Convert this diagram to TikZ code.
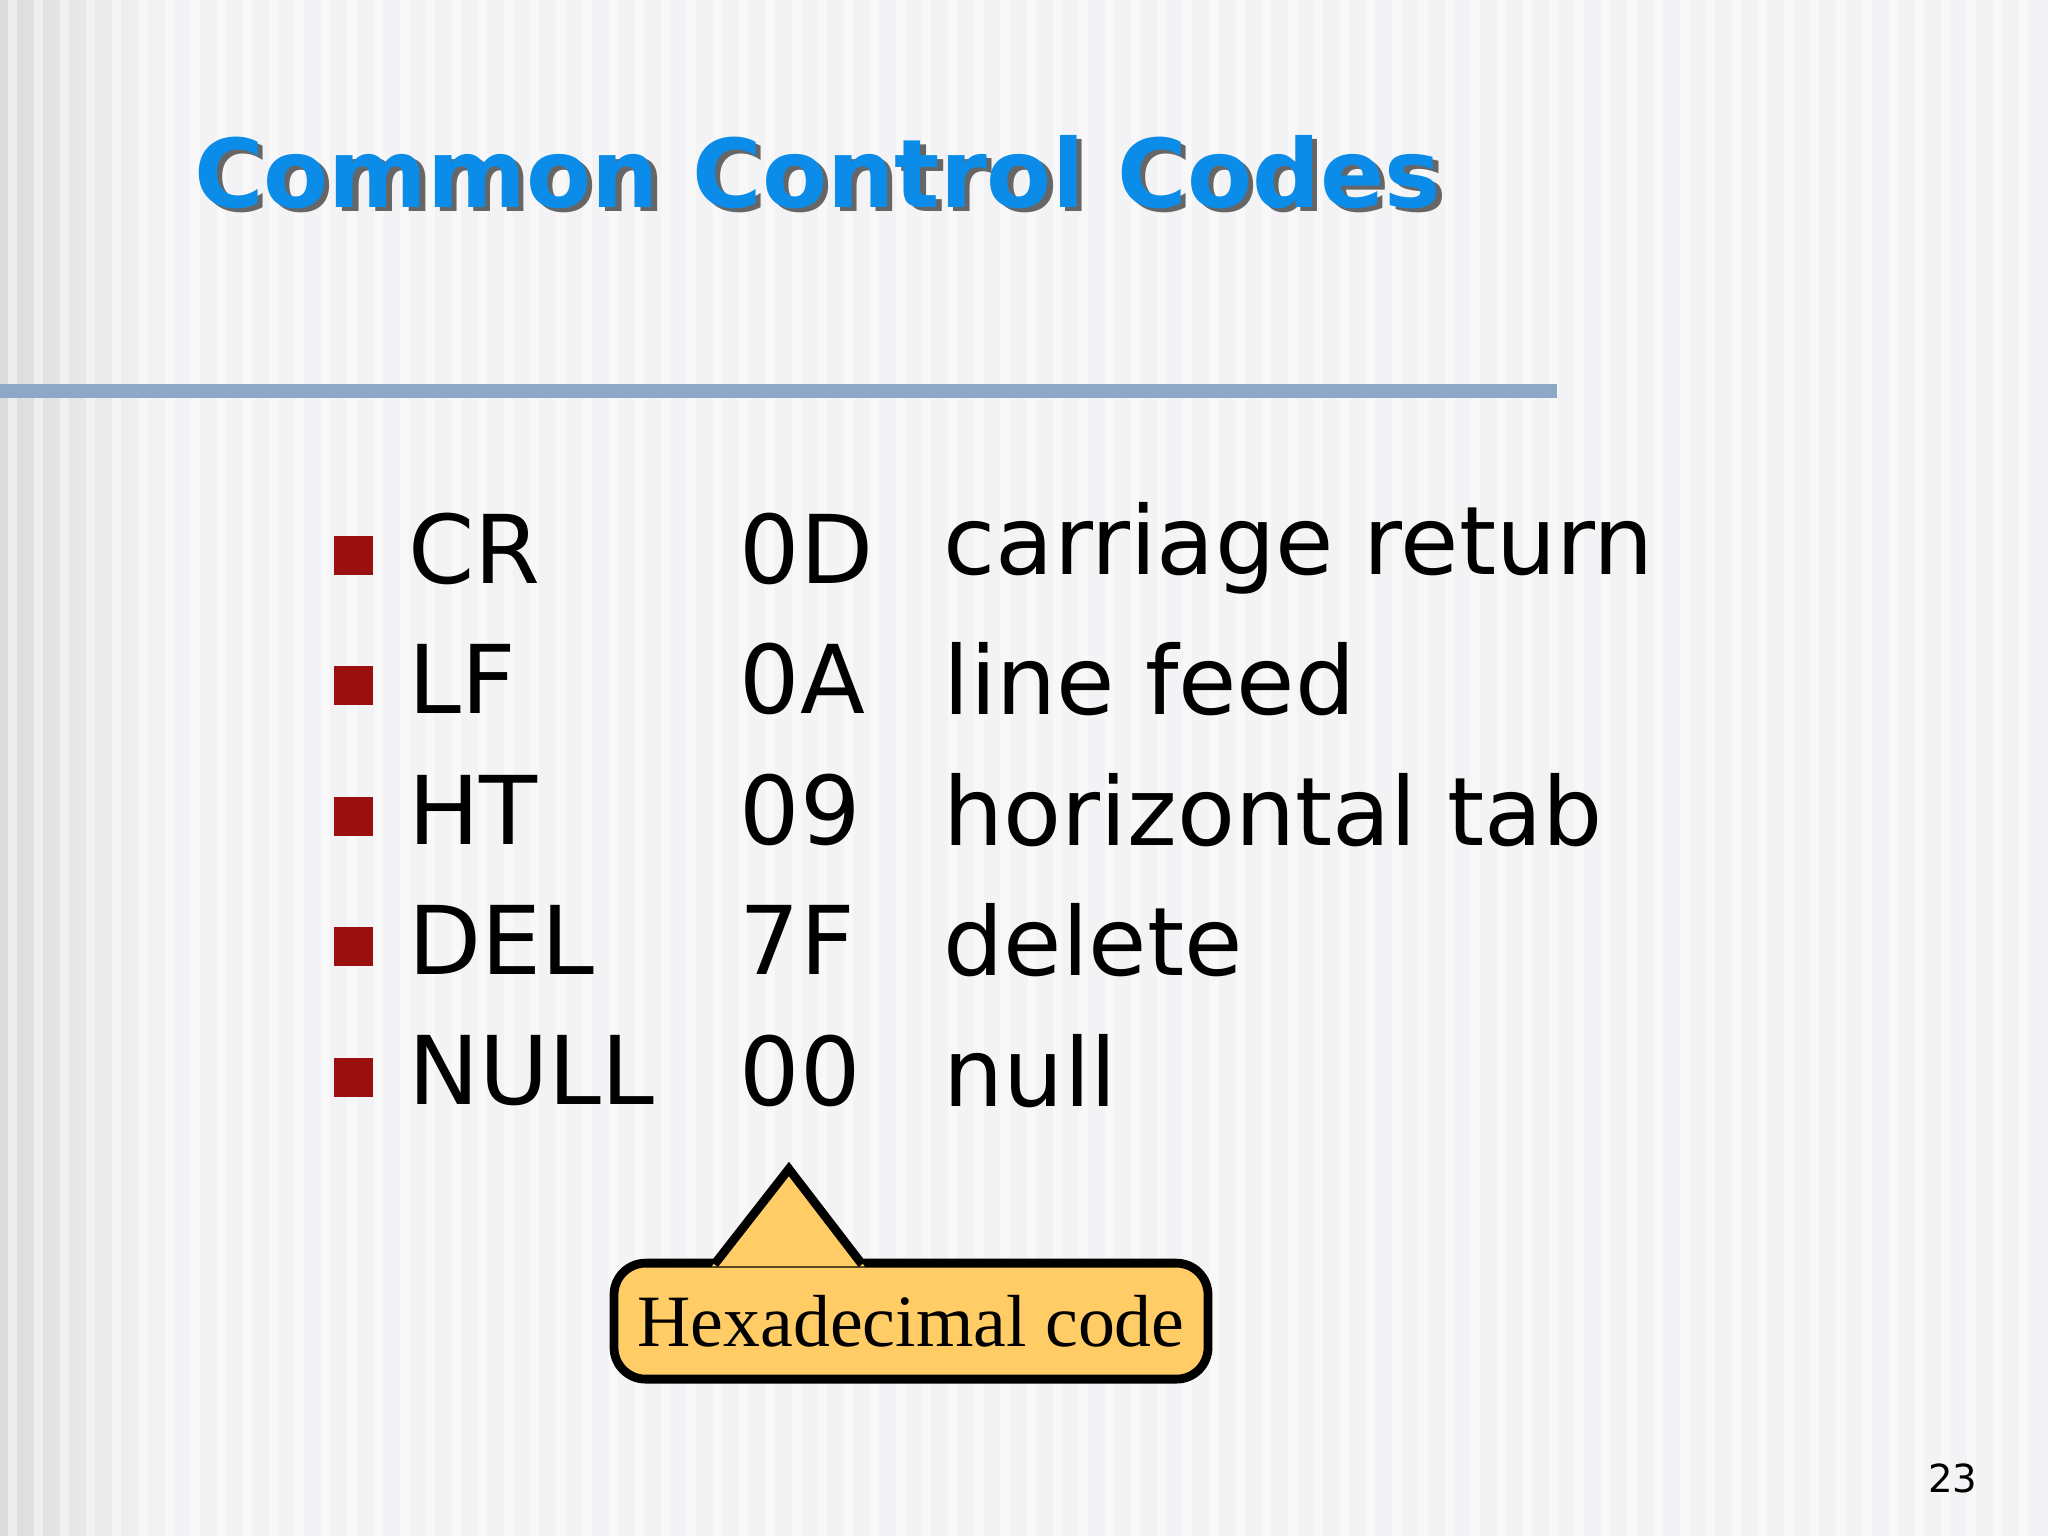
\documentclass[tikz,border=0pt]{standalone}
\usepackage{fontspec}
\setmainfont{DejaVu Sans}
\newfontfamily\serifc{Liberation Serif}
\definecolor{bgc}{HTML}{F3F3F5}
\definecolor{titleblue}{HTML}{0A8CE8}
\definecolor{rulec}{HTML}{8DA8C6}
\definecolor{bulc}{HTML}{9A0F0F}
\definecolor{callc}{HTML}{FFCC66}
\tikzset{
  body/.style={anchor=west,font=\fontsize{27}{30}\selectfont,text=black,inner sep=0pt},
  bulletbox/.style={fill=bulc,minimum size=0.39cm,inner sep=0pt},
}
\begin{document}
\begin{tikzpicture}[x=0.013061cm,y=-0.013061cm]
\useasboundingbox (0,0) rectangle (1568,1176);
\fill[bgc] (0,0) rectangle (1568,1176);
\shade[left color=black!14,right color=bgc] (0,0) rectangle (120,1176);
\foreach \i in {0,...,77} {\fill[white,opacity=0.45] (\i*20+6,0) rectangle (\i*20+13,1176);}
% title
\node[anchor=west,font=\bfseries\fontsize{27}{30}\selectfont,text=black!60,inner sep=0pt] at (152,135) {Common Control Codes};
\node[anchor=west,font=\bfseries\fontsize{27}{30}\selectfont,text=titleblue,inner sep=0pt] (title) at (148,132) {Common Control Codes};
\fill[rulec] (0,294) rectangle (1192,305);
% rows
\foreach \y/\a/\b/\c [count=\k] in {420/CR/0D/carriage return,520/LF/0A/line feed,620/HT/09/horizontal tab,720/DEL/7F/delete,820/NULL/00/null}{
  \node[bulletbox] (b\k) at (271,\y+5) {};
  \node[body] (n\k) at (312,\y) {\a};
  \node[body] (h\k) at (566,\y) {\b};
  \node[body] (d\k) at (722,\y) {\c};
}
% callout
\node[draw=black,line width=2.5pt,fill=callc,rounded corners=9pt,minimum width=5.94cm,minimum height=1.16cm,inner sep=0pt,font=\serifc\fontsize{21}{24}\selectfont] (call) at (697.5,1011.5) {Hexadecimal code};
\coordinate (tip) at (604,895);
\fill[callc] (545,969.5) -- (tip) -- (662,969.5) -- cycle;
\draw[line width=2.5pt,line join=miter] (547,968) -- (tip) -- (660,968);
\node[font=\fontsize{11}{13}\selectfont,inner sep=0pt] (pg) at (1495,1132) {23};
\end{tikzpicture}
\end{document}
